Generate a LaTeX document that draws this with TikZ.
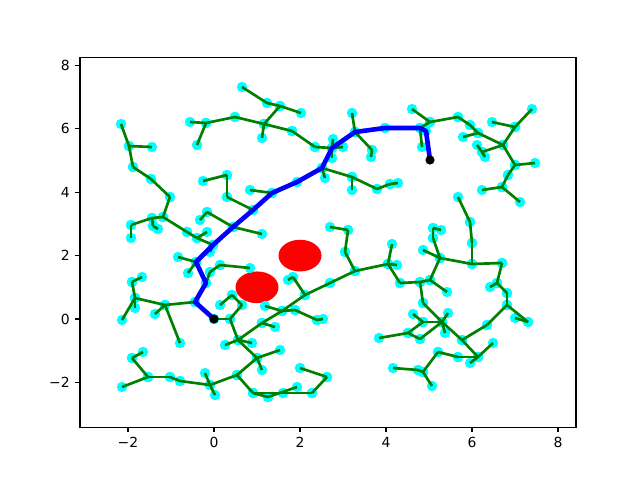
\documentclass[tikz,border=0pt]{standalone}
\usepackage{fontspec}
\setmainfont{DejaVu Sans}
\definecolor{treegreen}{rgb}{0,0.5,0}
\definecolor{nodecyan}{rgb}{0,1,1}

% tree edges, in pixel units of the plot: ax/ay/bx/by
\def\treeedges{%
  214/319/230/319, 230/319/242/305, 242/305/232/295, 232/295/220/305,
  230/319/238/340, 238/340/225/345, 238/340/252/343, 238/340/257/358,
  257/358/280/350, 257/358/262/370, 257/358/237/375, 237/375/210/385,
  210/385/205/373, 210/385/215/395, 210/385/180/381, 180/381/170/377,
  170/377/148/377, 148/377/122/387, 148/377/132/358, 132/358/143/352,
  237/375/253/393, 253/393/268/397, 268/397/297/387, 253/393/283/393,
  283/393/312/393, 312/393/327/377, 327/377/300/368,
  238/340/262/323, 262/323/275/327, 262/323/282/311, 282/311/265/306,
  282/311/295/310, 295/310/317/320, 317/320/323/319, 282/311/305/295,
  305/295/293/277, 293/277/288/280, 305/295/330/283, 330/283/355/271,
  355/271/345/252, 345/252/348/230, 348/230/330/227, 355/271/388/264,
  388/264/397/265, 388/264/392/244, 388/264/400/283, 400/283/420/282,
  420/282/430/280, 420/282/423/303, 423/303/442/322, 413/314/423/322,
  423/322/442/322, 379/338/408/333, 408/333/423/322, 408/333/420/339,
  420/339/442/322, 442/322/448/313, 442/322/445/333, 442/322/462/340,
  462/340/478/357, 478/357/493/343, 478/357/458/357, 458/357/438/352,
  478/357/470/363, 438/352/423/372, 423/372/418/370, 418/370/393/368,
  423/372/432/386, 462/340/487/325, 487/325/507/305, 507/305/528/322,
  528/322/515/318, 507/305/507/293, 507/293/497/283, 497/283/490/287,
  497/283/502/263, 502/263/472/264, 472/264/440/258, 472/264/472/243,
  472/243/470/222, 470/222/458/197, 440/258/423/250, 440/258/433/238,
  433/238/433/228, 433/228/441/230, 440/258/430/280, 430/280/447/292,
  502/187/482/190, 502/187/520/202, 502/187/508/175, 508/175/515/165,
  515/165/535/163, 515/165/503/145, 503/145/515/127, 515/127/532/109,
  515/127/492/122, 503/145/482/152, 482/152/485/157, 482/152/477/145,
  503/145/478/133, 478/133/463/137, 478/133/470/125, 470/125/458/117,
  458/117/430/122, 430/122/412/109, 430/122/420/128, 420/128/422/147,
  355/132/352/113, 355/132/372/150, 372/150/371/157, 332/148/333/139,
  332/148/343/147, 332/148/332/158, 315/147/332/148, 315/147/292/131,
  292/131/264/124, 264/124/235/117, 235/117/206/123, 206/123/190/122,
  206/123/197/145, 264/124/262/138, 264/124/280/106, 280/106/301/113,
  280/106/267/103, 267/103/242/87, 322/168/325/178, 322/168/352/177,
  352/177/352/190, 352/177/377/189, 377/189/390/184, 390/184/398/183,
  121/124/129/146, 129/146/152/147, 129/146/133/167, 133/167/151/179,
  151/179/170/197, 170/197/163/217, 163/217/152/218, 152/218/131/225,
  131/225/131/238, 152/218/153/226, 153/226/158/229, 163/217/187/232,
  187/232/197/238, 197/238/207/232, 197/238/213/245, 213/245/210/252,
  203/181/227/175, 227/175/227/197, 227/197/253/210, 250/190/272/193,
  200/220/207/212, 207/212/233/227, 233/227/262/234, 178/257/196/262,
  196/262/188/273, 206/283/210/272, 210/272/220/265, 220/265/250/268,
  142/277/132/282, 132/282/135/298, 135/298/122/320, 135/298/135/308,
  135/298/165/305, 165/305/195/302, 165/305/155/314, 165/305/180/343,
  214/319/195/302, 195/302/206/283, 206/283/196/262, 196/262/213/245,
  213/245/233/227, 233/227/253/210, 253/210/272/193, 272/193/297/182,
  297/182/322/168, 322/168/332/148, 332/148/355/132, 355/132/385/128,
  385/128/420/128, 420/128/426/131%
}

\begin{document}
\begin{tikzpicture}[x=0.025cm, y=-0.025cm,
    edge/.style={treegreen, line width=1.9pt},
    route/.style={blue, line width=3.3pt, line join=round, line cap=round},
    ticklabel/.style={font=\fontsize{9.9}{11}\selectfont, inner sep=0pt}]
  \useasboundingbox (0,0) rectangle (640,480);
  % data origin at pixel (214,319): 43 px per x unit, 31.7 px per y unit
  \pgfmathsetmacro{\ox}{214}
  \pgfmathsetmacro{\oy}{319}

  % obstacles at (1,1) and (2,2), radius 0.5
  \fill[red] ({\ox+43},{\oy-31.7}) ellipse [x radius=21.5, y radius=15.85];
  \fill[red] ({\ox+86},{\oy-63.4}) ellipse [x radius=21.5, y radius=15.85];

  % tree
  \foreach \ax/\ay/\bx/\by in \treeedges {
    \fill[nodecyan] (\ax,\ay) circle[radius=1.3mm];
    \fill[nodecyan] (\bx,\by) circle[radius=1.3mm];
  }
  \foreach \ax/\ay/\bx/\by in \treeedges
    \draw[edge] (\ax,\ay) -- (\bx,\by);

  % final path
  \draw[route] (214,319) -- (195,302) -- (206,283) -- (196,262) -- (213,245)
    -- (233,227) -- (253,210) -- (272,193) -- (297,182) -- (322,168)
    -- (332,148) -- (355,132) -- (385,128) -- (420,128) -- (426,131)
    -- (430,160);
  \coordinate (start) at (\ox,\oy);
  \coordinate (goal) at (430,160);
  \fill[black] (start) circle[radius=1.15mm];
  \fill[black] (goal) circle[radius=1.15mm];

  % axes
  \draw[line width=0.8pt] (80,57.6) rectangle (576,427.2);
  \foreach \v/\t in {-2/−2, 0/0, 2/2, 4/4, 6/6, 8/8} {
    \pgfmathsetmacro{\px}{\ox+43*\v}
    \pgfmathsetmacro{\py}{\oy-31.7*\v}
    \draw[line width=0.8pt] (\px,427.2) -- (\px,432.1);
    \node[ticklabel, below] at (\px,437) {\t};
    \draw[line width=0.8pt] (80,\py) -- (75.1,\py);
    \node[ticklabel, left] at (70,\py) {\t};
  }
\end{tikzpicture}
\end{document}
